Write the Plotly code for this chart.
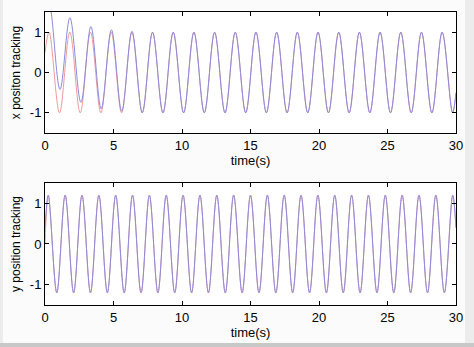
import plotly.graph_objects as go
from plotly.subplots import make_subplots

# ---- data: x position tracking (extrema) ----
x_ref_t = [0.00, 0.30, 1.06, 1.81, 2.57, 3.32, 4.08, 4.83, 5.59, 6.34, 7.10, 7.85, 8.61,
           9.36, 10.12, 10.87, 11.63, 12.38, 13.14, 13.89, 14.65, 15.40, 16.16, 16.91,
           17.67, 18.42, 19.18, 19.93, 20.69, 21.44, 22.20, 22.95, 23.71, 24.46, 25.22,
           25.97, 26.73, 27.48, 28.24, 28.99, 29.75, 30.00]
x_ref_v = [0.50, 1.00, -1.00, 1.00, -1.00, 1.00, -1.00, 1.00, -1.00, 1.00, -1.00, 1.00, -1.00,
           1.00, -1.00, 1.00, -1.00, 1.00, -1.00, 1.00, -1.00, 1.00, -1.00, 1.00,
           -1.00, 1.00, -1.00, 1.00, -1.00, 1.00, -1.00, 1.00, -1.00, 1.00, -1.00,
           1.00, -1.00, 1.00, -1.00, 1.00, -1.00, -0.50]

x_act_t = [0.00, 0.45, 1.10, 1.82, 2.62, 3.35, 4.10, 4.85, 5.60, 6.35, 7.10, 7.85, 8.61,
           9.36, 10.12, 10.87, 11.63, 12.38, 13.14, 13.89, 14.65, 15.40, 16.16, 16.91,
           17.67, 18.42, 19.18, 19.93, 20.69, 21.44, 22.20, 22.95, 23.71, 24.46, 25.22,
           25.97, 26.73, 27.48, 28.24, 28.99, 29.75, 30.00]
x_act_v = [2.40, 1.50, -0.42, 1.36, -0.74, 1.14, -0.90, 1.06, -0.96, 1.02, -1.00, 1.00, -1.00,
           1.00, -1.00, 1.00, -1.00, 1.00, -1.00, 1.00, -1.00, 1.00, -1.00, 1.00,
           -1.00, 1.00, -1.00, 1.00, -1.00, 1.00, -1.00, 1.00, -1.00, 1.00, -1.00,
           1.00, -1.00, 1.00, -1.00, 1.00, -1.00, -0.50]

# ---- data: y position tracking ----
y_t = [0.00, 0.24, 0.86, 1.47, 2.09, 2.70, 3.32, 3.93, 4.55, 5.16, 5.78, 6.39, 7.01,
       7.62, 8.24, 8.85, 9.47, 10.08, 10.70, 11.31, 11.93, 12.54, 13.16, 13.77, 14.39,
       15.00, 15.62, 16.23, 16.85, 17.46, 18.08, 18.69, 19.31, 19.92, 20.54, 21.15, 21.77,
       22.38, 23.00, 23.61, 24.23, 24.84, 25.46, 26.07, 26.69, 27.30, 27.92, 28.53, 29.15,
       29.76, 30.00]
y_ref_v = [0.00, 1.20, -1.20, 1.20, -1.20, 1.20, -1.20, 1.20, -1.20, 1.20, -1.20, 1.20, -1.20,
           1.20, -1.20, 1.20, -1.20, 1.20, -1.20, 1.20, -1.20, 1.20, -1.20, 1.20, -1.20,
           1.20, -1.20, 1.20, -1.20, 1.20, -1.20, 1.20, -1.20, 1.20, -1.20, 1.20, -1.20,
           1.20, -1.20, 1.20, -1.20, 1.20, -1.20, 1.20, -1.20, 1.20, -1.20, 1.20, -1.20,
           1.20, 0.40]
y_act_v = [0.40, 1.20, -1.20, 1.20, -1.20, 1.20, -1.20, 1.20, -1.20, 1.20, -1.20, 1.20, -1.20,
           1.20, -1.20, 1.20, -1.20, 1.20, -1.20, 1.20, -1.20, 1.20, -1.20, 1.20, -1.20,
           1.20, -1.20, 1.20, -1.20, 1.20, -1.20, 1.20, -1.20, 1.20, -1.20, 1.20, -1.20,
           1.20, -1.20, 1.20, -1.20, 1.20, -1.20, 1.20, -1.20, 1.20, -1.20, 1.20, -1.20,
           1.20, 0.40]

x_ticks = [0, 5, 10, 15, 20, 25, 30]
y_ticks = [-1, 0, 1]

RED = "#f29a9a"
BLUE = "#8a8ae0"
FONT = "Liberation Sans, Arial, sans-serif"

fig = make_subplots(rows=2, cols=1, vertical_spacing=0.17)

line_kw = dict(shape="spline", smoothing=1.0, width=1)
fig.add_trace(go.Scatter(x=x_ref_t, y=x_ref_v, mode="lines", line=dict(color=RED, **line_kw),
                         showlegend=False), row=1, col=1)
fig.add_trace(go.Scatter(x=x_act_t, y=x_act_v, mode="lines", line=dict(color=BLUE, **line_kw),
                         showlegend=False), row=1, col=1)
fig.add_trace(go.Scatter(x=y_t, y=y_ref_v, mode="lines", line=dict(color=RED, **line_kw),
                         showlegend=False), row=2, col=1)
fig.add_trace(go.Scatter(x=y_t, y=y_act_v, mode="lines", line=dict(color=BLUE, **line_kw),
                         showlegend=False), row=2, col=1)

ax_common = dict(showline=True, linecolor="black", linewidth=1, mirror="ticks",
                 ticks="inside", ticklen=4, tickcolor="black", showgrid=False, zeroline=False,
                 tickfont=dict(family=FONT, size=13, color="black"))

for r in (1, 2):
    fig.update_xaxes(range=[0, 30], tickvals=x_ticks, ticktext=[str(v) for v in x_ticks],
                     title=dict(text="time(s)", font=dict(family=FONT, size=13, color="black"),
                                standoff=1),
                     row=r, col=1, **ax_common)
    fig.update_yaxes(range=[-1.5, 1.5], tickvals=y_ticks, ticktext=[str(v) for v in y_ticks],
                     row=r, col=1, **ax_common)

fig.update_yaxes(title=dict(text="x positon tracking", font=dict(family=FONT, size=12, color="black"),
                            standoff=6), row=1, col=1)
fig.update_yaxes(title=dict(text="y position tracking", font=dict(family=FONT, size=12, color="black"),
                            standoff=6), row=2, col=1)

fig.update_layout(
    width=474, height=347,
    margin=dict(l=45, r=18, t=12, b=42),
    paper_bgcolor="#fbfbfb", plot_bgcolor="white",
    xaxis=dict(domain=[0, 1]), yaxis=dict(domain=[0.587, 1.0]),
    xaxis2=dict(domain=[0, 1]), yaxis2=dict(domain=[0.0, 0.4164]),
    shapes=[
        dict(type="rect", xref="paper", yref="paper", x0=1.0219, x1=1.06, y0=-0.15, y1=1.05,
             fillcolor="#ececec", line=dict(width=0), layer="below"),
        dict(type="rect", xref="paper", yref="paper", x0=-0.12, x1=1.06, y0=-0.15, y1=-0.1297,
             fillcolor="#c8c8c8", line=dict(width=0), layer="below"),
        dict(type="rect", xref="paper", yref="paper", x0=-0.12, x1=-0.1022, y0=-0.13, y1=1.05,
             fillcolor="#ececec", line=dict(width=0), layer="below"),
    ],
)

fig.write_html("out.html")
